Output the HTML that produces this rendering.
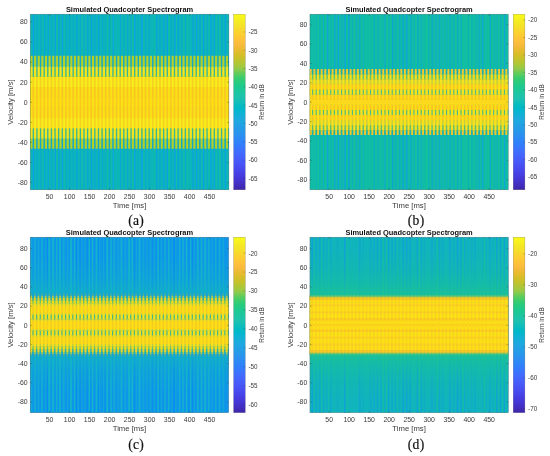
<!DOCTYPE html>
<html lang="en"><head><meta charset="utf-8"><title>Simulated Quadcopter Spectrogram</title>
<style>
html,body{margin:0;padding:0;background:#fff}
svg{display:block}
text{font-family:"Liberation Sans",sans-serif;fill:#3a3a3a}
.tk{font-size:6.9px}
.ct{font-size:6.3px}
.al{font-size:7.7px}
.cl{font-size:6.4px}
.ti{font-size:7.45px;font-weight:bold;fill:#111}
.sb{font-family:"Liberation Serif",serif;font-size:13.6px;fill:#111;stroke:#111;stroke-width:0.18px;letter-spacing:0.3px}
</style></head><body>
<svg width="550" height="456" viewBox="0 0 550 456">
<defs>
<linearGradient id="cb" x1="0" y1="0" x2="0" y2="1"><stop offset="0.0000" stop-color="#f9fb15"/><stop offset="0.0208" stop-color="#f7f31d"/><stop offset="0.0417" stop-color="#f5eb23"/><stop offset="0.0625" stop-color="#f5e327"/><stop offset="0.0833" stop-color="#f7db2b"/><stop offset="0.1042" stop-color="#fbd22f"/><stop offset="0.1250" stop-color="#feca33"/><stop offset="0.1458" stop-color="#fec239"/><stop offset="0.1667" stop-color="#fbbc3d"/><stop offset="0.1875" stop-color="#f1ba37"/><stop offset="0.2083" stop-color="#e5bb2d"/><stop offset="0.2292" stop-color="#d7be28"/><stop offset="0.2500" stop-color="#c8c129"/><stop offset="0.2708" stop-color="#b8c431"/><stop offset="0.2917" stop-color="#a6c83c"/><stop offset="0.3125" stop-color="#90ca4a"/><stop offset="0.3333" stop-color="#66cc59"/><stop offset="0.3542" stop-color="#45cd67"/><stop offset="0.3750" stop-color="#2fcc76"/><stop offset="0.3958" stop-color="#22cb84"/><stop offset="0.4167" stop-color="#1cc990"/><stop offset="0.4375" stop-color="#1bc79c"/><stop offset="0.4583" stop-color="#1dc4a6"/><stop offset="0.4792" stop-color="#1cc1b0"/><stop offset="0.5000" stop-color="#12beb9"/><stop offset="0.5208" stop-color="#03bbc2"/><stop offset="0.5417" stop-color="#02b7cb"/><stop offset="0.5625" stop-color="#0cb3d3"/><stop offset="0.5833" stop-color="#17aeda"/><stop offset="0.6042" stop-color="#1da9e0"/><stop offset="0.6250" stop-color="#21a3e3"/><stop offset="0.6458" stop-color="#259de7"/><stop offset="0.6667" stop-color="#2797eb"/><stop offset="0.6875" stop-color="#2c90f0"/><stop offset="0.7083" stop-color="#2d89f5"/><stop offset="0.7292" stop-color="#2f82fa"/><stop offset="0.7500" stop-color="#347afd"/><stop offset="0.7708" stop-color="#3c72ff"/><stop offset="0.7917" stop-color="#426afe"/><stop offset="0.8125" stop-color="#4562fc"/><stop offset="0.8333" stop-color="#475bf9"/><stop offset="0.8542" stop-color="#4853f5"/><stop offset="0.8750" stop-color="#484cef"/><stop offset="0.8958" stop-color="#4744e9"/><stop offset="0.9167" stop-color="#463de0"/><stop offset="0.9375" stop-color="#4536d5"/><stop offset="0.9583" stop-color="#4331c7"/><stop offset="0.9792" stop-color="#402bb8"/><stop offset="1.0000" stop-color="#3e26a8"/></linearGradient>
<linearGradient id="p2gr" x1="0" y1="0" x2="0" y2="1"><stop offset="0" stop-color="#12b2c2" stop-opacity="0"/><stop offset="0.12" stop-color="#12b2c2" stop-opacity="0.05"/><stop offset="0.24" stop-color="#12b2c2" stop-opacity="0.35"/><stop offset="0.32" stop-color="#12b2c2" stop-opacity="0.75"/><stop offset="0.68" stop-color="#12b2c2" stop-opacity="0.75"/><stop offset="0.76" stop-color="#12b2c2" stop-opacity="0.35"/><stop offset="0.88" stop-color="#12b2c2" stop-opacity="0.05"/><stop offset="1" stop-color="#12b2c2" stop-opacity="0"/></linearGradient>
<linearGradient id="p3gr" x1="0" y1="0" x2="0" y2="1"><stop offset="0" stop-color="#18c09a" stop-opacity="0"/><stop offset="0.08" stop-color="#18c09a" stop-opacity="0.04"/><stop offset="0.18" stop-color="#18c09a" stop-opacity="0.25"/><stop offset="0.27" stop-color="#18c09a" stop-opacity="0.62"/><stop offset="0.34" stop-color="#1cc294" stop-opacity="0.92"/><stop offset="0.67" stop-color="#1cc294" stop-opacity="0.92"/><stop offset="0.73" stop-color="#18c09a" stop-opacity="0.62"/><stop offset="0.82" stop-color="#18c09a" stop-opacity="0.25"/><stop offset="0.92" stop-color="#18c09a" stop-opacity="0.04"/><stop offset="1" stop-color="#18c09a" stop-opacity="0"/></linearGradient></defs>
<rect width="550" height="456" fill="#fff"/>
<g><rect x="30.2" y="14.2" width="198.7" height="175.6" fill="#0cb6b8"/><path d="M66.28 14.2v175.6M73.12 14.2v175.6M105.9 14.2v175.6M138.28 14.2v175.6M171.06 14.2v175.6M218.12 14.2v175.6" stroke="#0c9ee8" stroke-opacity="0.5" stroke-width="1.06" fill="none"/><path d="M40.74 14.2v175.6M102.48 14.2v175.6M145.72 14.2v175.6M149.34 14.2v175.6M182.12 14.2v175.6M221.74 14.2v175.6" stroke="#0c9ee8" stroke-opacity="0.5" stroke-width="1.25" fill="none"/><path d="M37.12 14.2v175.6M51.4 14.2v175.6M80.56 14.2v175.6M123.8 14.2v175.6M131.24 14.2v175.6M160 14.2v175.6M185.34 14.2v175.6M207.46 14.2v175.6" stroke="#0c9ee8" stroke-opacity="0.5" stroke-width="1.44" fill="none"/><path d="M83.98 14.2v175.6M95.04 14.2v175.6M109.32 14.2v175.6M120.58 14.2v175.6" stroke="#0c9ee8" stroke-opacity="0.75" stroke-width="1.06" fill="none"/><path d="M44.56 14.2v175.6M69.5 14.2v175.6M87.6 14.2v175.6M113.34 14.2v175.6M127.82 14.2v175.6" stroke="#0c9ee8" stroke-opacity="0.75" stroke-width="1.25" fill="none"/><path d="M76.94 14.2v175.6M98.66 14.2v175.6M156.78 14.2v175.6M163.82 14.2v175.6M192.98 14.2v175.6M210.88 14.2v175.6M214.5 14.2v175.6" stroke="#0c9ee8" stroke-opacity="0.75" stroke-width="1.44" fill="none"/><path d="M48.18 14.2v175.6M55.42 14.2v175.6M58.84 14.2v175.6M62.66 14.2v175.6M91.62 14.2v175.6M167.44 14.2v175.6M196.6 14.2v175.6M200.02 14.2v175.6M225.36 14.2v175.6" stroke="#0c9ee8" stroke-opacity="1" stroke-width="1.06" fill="none"/><path d="M33.5 14.2v175.6M134.86 14.2v175.6M178.1 14.2v175.6" stroke="#0c9ee8" stroke-opacity="1" stroke-width="1.25" fill="none"/><path d="M141.9 14.2v175.6M174.88 14.2v175.6M203.64 14.2v175.6" stroke="#0c9ee8" stroke-opacity="1" stroke-width="1.44" fill="none"/><path d="M42.55 14.2v175.6M49.79 14.2v175.6M64.27 14.2v175.6M85.99 14.2v175.6M111.33 14.2v175.6M122.19 14.2v175.6M125.81 14.2v175.6M129.43 14.2v175.6M143.91 14.2v175.6M154.77 14.2v175.6M187.35 14.2v175.6M201.83 14.2v175.6M205.45 14.2v175.6M209.07 14.2v175.6" stroke="#14c09c" stroke-opacity="0.4" stroke-width="1.6" fill="none"/><path d="M57.03 14.2v175.6M82.37 14.2v175.6M107.71 14.2v175.6M133.05 14.2v175.6M169.25 14.2v175.6M176.49 14.2v175.6M183.73 14.2v175.6M216.31 14.2v175.6M219.93 14.2v175.6" stroke="#14c09c" stroke-opacity="0.7" stroke-width="1.6" fill="none"/><rect x="30.2" y="138.14" width="198.7" height="10.64" fill="#15a8c8"/><path d="M30.2 143.46H228.9" stroke="#b4d224" stroke-width="10.64" stroke-dasharray="2.1 1.52" stroke-dashoffset="3.37" fill="none"/><rect x="30.2" y="127.8" width="198.7" height="10.94" fill="#3ab792"/><path d="M30.2 133.27H228.9" stroke="#f8e41a" stroke-width="10.94" stroke-dasharray="2.25 1.37" stroke-dashoffset="3.44" fill="none"/><rect x="30.2" y="117.46" width="198.7" height="10.94" fill="#f4d220"/><path d="M30.2 122.93H228.9" stroke="#f9ee1c" stroke-width="10.94" stroke-dasharray="1.9 1.72" stroke-dashoffset="3.27" fill="none"/><rect x="30.2" y="107.12" width="198.7" height="10.94" fill="#f8c622"/><path d="M30.2 112.59H228.9" stroke="#fae214" stroke-width="10.94" stroke-dasharray="1.9 1.72" stroke-dashoffset="3.27" fill="none"/><rect x="30.2" y="96.78" width="198.7" height="10.94" fill="#f9ca20"/><path d="M30.2 102.25H228.9" stroke="#fae214" stroke-width="10.94" stroke-dasharray="1.9 1.72" stroke-dashoffset="3.27" fill="none"/><rect x="30.2" y="86.44" width="198.7" height="10.94" fill="#f8c622"/><path d="M30.2 91.91H228.9" stroke="#fae214" stroke-width="10.94" stroke-dasharray="1.9 1.72" stroke-dashoffset="3.27" fill="none"/><rect x="30.2" y="76.1" width="198.7" height="10.94" fill="#f4d220"/><path d="M30.2 81.57H228.9" stroke="#f9ee1c" stroke-width="10.94" stroke-dasharray="1.9 1.72" stroke-dashoffset="3.27" fill="none"/><rect x="30.2" y="65.76" width="198.7" height="10.94" fill="#3ab792"/><path d="M30.2 71.23H228.9" stroke="#f8e41a" stroke-width="10.94" stroke-dasharray="2.25 1.37" stroke-dashoffset="3.44" fill="none"/><rect x="30.2" y="55.72" width="198.7" height="10.64" fill="#15a8c8"/><path d="M30.2 61.04H228.9" stroke="#b4d224" stroke-width="10.64" stroke-dasharray="2.1 1.52" stroke-dashoffset="3.37" fill="none"/></g>
<rect x="30.2" y="14.2" width="198.7" height="175.6" fill="none" stroke="#4a4a4a" stroke-width="0.5" stroke-opacity="0.55"/>
<path d="M49.6 189.8v-1.8M49.6 14.2v1.8M69.6 189.8v-1.8M69.6 14.2v1.8M89.6 189.8v-1.8M89.6 14.2v1.8M109.6 189.8v-1.8M109.6 14.2v1.8M129.6 189.8v-1.8M129.6 14.2v1.8M149.6 189.8v-1.8M149.6 14.2v1.8M169.6 189.8v-1.8M169.6 14.2v1.8M189.6 189.8v-1.8M189.6 14.2v1.8M209.6 189.8v-1.8M209.6 14.2v1.8M30.2 182.62h1.8M228.9 182.62h-1.8M30.2 162.54h1.8M228.9 162.54h-1.8M30.2 142.46h1.8M228.9 142.46h-1.8M30.2 122.38h1.8M228.9 122.38h-1.8M30.2 102.3h1.8M228.9 102.3h-1.8M30.2 82.22h1.8M228.9 82.22h-1.8M30.2 62.14h1.8M228.9 62.14h-1.8M30.2 42.06h1.8M228.9 42.06h-1.8M30.2 21.98h1.8M228.9 21.98h-1.8" stroke="#333" stroke-width="0.5" stroke-opacity="0.6" fill="none"/>
<text x="49.6" y="199.3" class="tk" text-anchor="middle">50</text>
<text x="69.6" y="199.3" class="tk" text-anchor="middle">100</text>
<text x="89.6" y="199.3" class="tk" text-anchor="middle">150</text>
<text x="109.6" y="199.3" class="tk" text-anchor="middle">200</text>
<text x="129.6" y="199.3" class="tk" text-anchor="middle">250</text>
<text x="149.6" y="199.3" class="tk" text-anchor="middle">300</text>
<text x="169.6" y="199.3" class="tk" text-anchor="middle">350</text>
<text x="189.6" y="199.3" class="tk" text-anchor="middle">400</text>
<text x="209.6" y="199.3" class="tk" text-anchor="middle">450</text>
<text x="27.6" y="184.97" class="tk" text-anchor="end">-80</text>
<text x="27.6" y="164.89" class="tk" text-anchor="end">-60</text>
<text x="27.6" y="144.81" class="tk" text-anchor="end">-40</text>
<text x="27.6" y="124.73" class="tk" text-anchor="end">-20</text>
<text x="27.6" y="104.65" class="tk" text-anchor="end">0</text>
<text x="27.6" y="84.57" class="tk" text-anchor="end">20</text>
<text x="27.6" y="64.49" class="tk" text-anchor="end">40</text>
<text x="27.6" y="44.41" class="tk" text-anchor="end">60</text>
<text x="27.6" y="24.33" class="tk" text-anchor="end">80</text>
<text x="129.55" y="208.4" class="al" text-anchor="middle">Time [ms]</text>
<text transform="translate(12.9 102) rotate(-90)" class="al" text-anchor="middle">Velocity [m/s]</text>
<text x="129.55" y="11.9" class="ti" text-anchor="middle">Simulated Quadcopter Spectrogram</text>
<rect x="233.6" y="14.2" width="11.7" height="175.6" fill="url(#cb)" stroke="#4a4a4a" stroke-width="0.4" stroke-opacity="0.5"/>
<text x="248.5" y="34.3" class="ct">-25</text>
<text x="248.5" y="52.6" class="ct">-30</text>
<text x="248.5" y="70.9" class="ct">-35</text>
<text x="248.5" y="89.2" class="ct">-40</text>
<text x="248.5" y="107.5" class="ct">-45</text>
<text x="248.5" y="125.8" class="ct">-50</text>
<text x="248.5" y="144.1" class="ct">-55</text>
<text x="248.5" y="162.4" class="ct">-60</text>
<text x="248.5" y="180.7" class="ct">-65</text>
<path d="M245.3 32h-1.6M245.3 50.3h-1.6M245.3 68.6h-1.6M245.3 86.9h-1.6M245.3 105.2h-1.6M245.3 123.5h-1.6M245.3 141.8h-1.6M245.3 160.1h-1.6M245.3 178.4h-1.6" stroke="#333" stroke-width="0.5" stroke-opacity="0.6" fill="none"/>
<text transform="translate(264.3 102) rotate(-90)" class="cl" text-anchor="middle">Return in dB</text>
<text x="136.2" y="225" class="sb" text-anchor="middle">(a)</text>
<g><rect x="309.9" y="14.2" width="198.4" height="175.6" fill="#10bca6"/><path d="M316.62 14.2v175.6M331.1 14.2v175.6M414.36 14.2v175.6M442.92 14.2v175.6M475.9 14.2v175.6M494 14.2v175.6M497.42 14.2v175.6" stroke="#10a2de" stroke-opacity="0.35" stroke-width="1.1" fill="none"/><path d="M388.82 14.2v175.6M468.26 14.2v175.6M471.88 14.2v175.6" stroke="#10a2de" stroke-opacity="0.35" stroke-width="1.3" fill="none"/><path d="M319.84 14.2v175.6M363.48 14.2v175.6M377.76 14.2v175.6M421.4 14.2v175.6M428.64 14.2v175.6M446.74 14.2v175.6" stroke="#10a2de" stroke-opacity="0.35" stroke-width="1.49" fill="none"/><path d="M323.46 14.2v175.6M341.96 14.2v175.6M352.82 14.2v175.6M356.24 14.2v175.6M396.06 14.2v175.6M453.98 14.2v175.6M461.42 14.2v175.6" stroke="#10a2de" stroke-opacity="0.6" stroke-width="1.1" fill="none"/><path d="M374.14 14.2v175.6M385 14.2v175.6M436.08 14.2v175.6M450.36 14.2v175.6M479.12 14.2v175.6M501.24 14.2v175.6" stroke="#10a2de" stroke-opacity="0.6" stroke-width="1.3" fill="none"/><path d="M359.66 14.2v175.6M399.68 14.2v175.6M410.74 14.2v175.6M432.26 14.2v175.6M457.6 14.2v175.6" stroke="#10a2de" stroke-opacity="0.6" stroke-width="1.49" fill="none"/><path d="M392.64 14.2v175.6M417.78 14.2v175.6M439.7 14.2v175.6M482.74 14.2v175.6M490.38 14.2v175.6" stroke="#10a2de" stroke-opacity="0.9" stroke-width="1.1" fill="none"/><path d="M334.72 14.2v175.6M338.34 14.2v175.6M403.1 14.2v175.6" stroke="#10a2de" stroke-opacity="0.9" stroke-width="1.3" fill="none"/><path d="M327.48 14.2v175.6M345.18 14.2v175.6M348.8 14.2v175.6M406.72 14.2v175.6M504.46 14.2v175.6" stroke="#10a2de" stroke-opacity="0.9" stroke-width="1.49" fill="none"/><path d="M321.85 14.2v175.6M332.71 14.2v175.6M347.19 14.2v175.6M361.67 14.2v175.6M365.29 14.2v175.6M372.53 14.2v175.6M376.15 14.2v175.6M390.63 14.2v175.6M397.87 14.2v175.6M430.45 14.2v175.6M473.89 14.2v175.6M488.37 14.2v175.6M499.23 14.2v175.6" stroke="#14c494" stroke-opacity="0.4" stroke-width="1.6" fill="none"/><path d="M318.23 14.2v175.6M325.47 14.2v175.6M354.43 14.2v175.6M387.01 14.2v175.6M415.97 14.2v175.6M426.83 14.2v175.6M455.79 14.2v175.6M463.03 14.2v175.6M466.65 14.2v175.6M470.27 14.2v175.6M491.99 14.2v175.6M502.85 14.2v175.6" stroke="#14c494" stroke-opacity="0.7" stroke-width="1.6" fill="none"/><rect x="309.9" y="129.69" width="198.4" height="5.39" fill="#19b0ae"/><path d="M309.85 132.39H508.3" stroke="#f4c92a" stroke-width="5.39" stroke-dasharray="1.9 1.72" stroke-dashoffset="0" fill="none"/><rect x="309.9" y="124.61" width="198.4" height="5.69" fill="#62bf6e"/><path d="M309.7 127.45H508.3" stroke="#f7de1e" stroke-width="5.69" stroke-dasharray="2.2 1.42" stroke-dashoffset="0" fill="none"/><rect x="309.9" y="119.52" width="198.4" height="5.69" fill="#c9cf3c"/><path d="M309.8 122.36H508.3" stroke="#f9e41a" stroke-width="5.69" stroke-dasharray="2 1.62" stroke-dashoffset="0" fill="none"/><rect x="309.9" y="114.42" width="198.4" height="5.69" fill="#f7c724"/><path d="M309.85 117.27H508.3" stroke="#fbe014" stroke-width="5.69" stroke-dasharray="1.9 1.72" stroke-dashoffset="0" fill="none"/><rect x="309.9" y="109.34" width="198.4" height="5.69" fill="#54b980"/><path d="M309.57 112.18H508.3" stroke="#f9e21a" stroke-width="5.69" stroke-dasharray="2.45 1.17" stroke-dashoffset="0" fill="none"/><rect x="309.9" y="104.25" width="198.4" height="5.69" fill="#f8c326"/><path d="M309.85 107.09H508.3" stroke="#fbe014" stroke-width="5.69" stroke-dasharray="1.9 1.72" stroke-dashoffset="0" fill="none"/><rect x="309.9" y="99.16" width="198.4" height="5.69" fill="#fbd91c"/><rect x="309.9" y="94.06" width="198.4" height="5.69" fill="#f8c326"/><path d="M309.85 96.91H508.3" stroke="#fbe014" stroke-width="5.69" stroke-dasharray="1.9 1.72" stroke-dashoffset="0" fill="none"/><rect x="309.9" y="88.98" width="198.4" height="5.69" fill="#54b980"/><path d="M309.57 91.82H508.3" stroke="#f9e21a" stroke-width="5.69" stroke-dasharray="2.45 1.17" stroke-dashoffset="0" fill="none"/><rect x="309.9" y="83.89" width="198.4" height="5.69" fill="#f7c724"/><path d="M309.85 86.73H508.3" stroke="#fbe014" stroke-width="5.69" stroke-dasharray="1.9 1.72" stroke-dashoffset="0" fill="none"/><rect x="309.9" y="78.8" width="198.4" height="5.69" fill="#c9cf3c"/><path d="M309.8 81.64H508.3" stroke="#f9e41a" stroke-width="5.69" stroke-dasharray="2 1.62" stroke-dashoffset="0" fill="none"/><rect x="309.9" y="73.7" width="198.4" height="5.69" fill="#62bf6e"/><path d="M309.7 76.55H508.3" stroke="#f7de1e" stroke-width="5.69" stroke-dasharray="2.2 1.42" stroke-dashoffset="0" fill="none"/><rect x="309.9" y="68.91" width="198.4" height="5.39" fill="#19b0ae"/><path d="M309.85 71.61H508.3" stroke="#f4c92a" stroke-width="5.39" stroke-dasharray="1.9 1.72" stroke-dashoffset="0" fill="none"/></g>
<rect x="309.9" y="14.2" width="198.4" height="175.6" fill="none" stroke="#4a4a4a" stroke-width="0.5" stroke-opacity="0.55"/>
<path d="M329.2 189.8v-1.8M329.2 14.2v1.8M349.2 189.8v-1.8M349.2 14.2v1.8M369.2 189.8v-1.8M369.2 14.2v1.8M389.2 189.8v-1.8M389.2 14.2v1.8M409.2 189.8v-1.8M409.2 14.2v1.8M429.2 189.8v-1.8M429.2 14.2v1.8M449.2 189.8v-1.8M449.2 14.2v1.8M469.2 189.8v-1.8M469.2 14.2v1.8M489.2 189.8v-1.8M489.2 14.2v1.8M309.9 179.72h1.8M508.3 179.72h-1.8M309.9 160.34h1.8M508.3 160.34h-1.8M309.9 140.96h1.8M508.3 140.96h-1.8M309.9 121.58h1.8M508.3 121.58h-1.8M309.9 102.2h1.8M508.3 102.2h-1.8M309.9 82.82h1.8M508.3 82.82h-1.8M309.9 63.44h1.8M508.3 63.44h-1.8M309.9 44.06h1.8M508.3 44.06h-1.8M309.9 24.68h1.8M508.3 24.68h-1.8" stroke="#333" stroke-width="0.5" stroke-opacity="0.6" fill="none"/>
<text x="329.2" y="199.3" class="tk" text-anchor="middle">50</text>
<text x="349.2" y="199.3" class="tk" text-anchor="middle">100</text>
<text x="369.2" y="199.3" class="tk" text-anchor="middle">150</text>
<text x="389.2" y="199.3" class="tk" text-anchor="middle">200</text>
<text x="409.2" y="199.3" class="tk" text-anchor="middle">250</text>
<text x="429.2" y="199.3" class="tk" text-anchor="middle">300</text>
<text x="449.2" y="199.3" class="tk" text-anchor="middle">350</text>
<text x="469.2" y="199.3" class="tk" text-anchor="middle">400</text>
<text x="489.2" y="199.3" class="tk" text-anchor="middle">450</text>
<text x="307.3" y="182.07" class="tk" text-anchor="end">-80</text>
<text x="307.3" y="162.69" class="tk" text-anchor="end">-60</text>
<text x="307.3" y="143.31" class="tk" text-anchor="end">-40</text>
<text x="307.3" y="123.93" class="tk" text-anchor="end">-20</text>
<text x="307.3" y="104.55" class="tk" text-anchor="end">0</text>
<text x="307.3" y="85.17" class="tk" text-anchor="end">20</text>
<text x="307.3" y="65.79" class="tk" text-anchor="end">40</text>
<text x="307.3" y="46.41" class="tk" text-anchor="end">60</text>
<text x="307.3" y="27.03" class="tk" text-anchor="end">80</text>
<text x="409.1" y="208.4" class="al" text-anchor="middle">Time [ms]</text>
<text transform="translate(292.6 102) rotate(-90)" class="al" text-anchor="middle">Velocity [m/s]</text>
<text x="409.1" y="11.9" class="ti" text-anchor="middle">Simulated Quadcopter Spectrogram</text>
<rect x="513.2" y="14.2" width="11.7" height="175.6" fill="url(#cb)" stroke="#4a4a4a" stroke-width="0.4" stroke-opacity="0.5"/>
<text x="528.1" y="22.3" class="ct">-20</text>
<text x="528.1" y="39.75" class="ct">-25</text>
<text x="528.1" y="57.2" class="ct">-30</text>
<text x="528.1" y="74.65" class="ct">-35</text>
<text x="528.1" y="92.1" class="ct">-40</text>
<text x="528.1" y="109.55" class="ct">-45</text>
<text x="528.1" y="127" class="ct">-50</text>
<text x="528.1" y="144.45" class="ct">-55</text>
<text x="528.1" y="161.9" class="ct">-60</text>
<text x="528.1" y="179.35" class="ct">-65</text>
<path d="M524.9 20h-1.6M524.9 37.45h-1.6M524.9 54.9h-1.6M524.9 72.35h-1.6M524.9 89.8h-1.6M524.9 107.25h-1.6M524.9 124.7h-1.6M524.9 142.15h-1.6M524.9 159.6h-1.6M524.9 177.05h-1.6" stroke="#333" stroke-width="0.5" stroke-opacity="0.6" fill="none"/>
<text transform="translate(543.9 102) rotate(-90)" class="cl" text-anchor="middle">Return in dB</text>
<text x="416.1" y="225" class="sb" text-anchor="middle">(b)</text>
<g><rect x="30.2" y="237.2" width="198.5" height="175.5" fill="#0e94ec"/><path d="M61.97 237.2v175.5M80.07 237.2v175.5M87.31 237.2v175.5M90.93 237.2v175.5M94.55 237.2v175.5M105.41 237.2v175.5M152.47 237.2v175.5M156.09 237.2v175.5M159.71 237.2v175.5M188.67 237.2v175.5M217.63 237.2v175.5" stroke="#0a84f4" stroke-opacity="0.4" stroke-width="1.4" fill="none"/><path d="M47.49 237.2v175.5M76.45 237.2v175.5M98.17 237.2v175.5M134.37 237.2v175.5M174.19 237.2v175.5M192.29 237.2v175.5" stroke="#0a84f4" stroke-opacity="0.7" stroke-width="1.4" fill="none"/><path d="M45.68 237.2v175.5M67.6 237.2v175.5M81.88 237.2v175.5M85.3 237.2v175.5M99.78 237.2v175.5M103.6 237.2v175.5M136.38 237.2v175.5M146.84 237.2v175.5M172.18 237.2v175.5M175.8 237.2v175.5M194.1 237.2v175.5M212.2 237.2v175.5" stroke="#14b4cc" stroke-opacity="0.55" stroke-width="1.44" fill="none"/><path d="M78.26 237.2v175.5M118.28 237.2v175.5M125.32 237.2v175.5M154.48 237.2v175.5M161.32 237.2v175.5M223.26 237.2v175.5" stroke="#14b4cc" stroke-opacity="0.55" stroke-width="1.7" fill="none"/><path d="M31.4 237.2v175.5M38.44 237.2v175.5M143.42 237.2v175.5M150.46 237.2v175.5" stroke="#14b4cc" stroke-opacity="0.55" stroke-width="1.95" fill="none"/><path d="M165.14 237.2v175.5M215.82 237.2v175.5" stroke="#14b4cc" stroke-opacity="0.75" stroke-width="1.7" fill="none"/><path d="M42.06 237.2v175.5M63.58 237.2v175.5M114.26 237.2v175.5M208.78 237.2v175.5M219.44 237.2v175.5" stroke="#14b4cc" stroke-opacity="0.75" stroke-width="1.95" fill="none"/><path d="M35.02 237.2v175.5M56.74 237.2v175.5M74.64 237.2v175.5M89.32 237.2v175.5M111.04 237.2v175.5M168.76 237.2v175.5M179.62 237.2v175.5M183.04 237.2v175.5M190.68 237.2v175.5" stroke="#14b4cc" stroke-opacity="0.95" stroke-width="1.44" fill="none"/><path d="M92.54 237.2v175.5M121.5 237.2v175.5M158.1 237.2v175.5M186.66 237.2v175.5M197.72 237.2v175.5M201.54 237.2v175.5" stroke="#14b4cc" stroke-opacity="0.95" stroke-width="1.7" fill="none"/><path d="M49.3 237.2v175.5M53.12 237.2v175.5M60.16 237.2v175.5M71.02 237.2v175.5M96.56 237.2v175.5M107.22 237.2v175.5M129.14 237.2v175.5M132.36 237.2v175.5M139.6 237.2v175.5M205.16 237.2v175.5" stroke="#14b4cc" stroke-opacity="0.95" stroke-width="1.95" fill="none"/><rect x="30.2" y="237.2" width="198.5" height="175.5" fill="url(#p2gr)"/><rect x="30.2" y="320.3" width="198.5" height="9.4" fill="#f9cc20"/><path d="M30.2 325H228.7" stroke="#fbe016" stroke-width="9.4" stroke-dasharray="1.9 1.72" stroke-dashoffset="3.57" fill="none"/><rect x="30.2" y="318.7" width="198.5" height="2.2" fill="#c6cc40"/><path d="M30 319.8H228.7" stroke="#f9e01a" stroke-width="2.2" stroke-dasharray="2.4 1.22" stroke-dashoffset="0" fill="none"/><rect x="30.2" y="329.1" width="198.5" height="2.2" fill="#c6cc40"/><path d="M30 330.2H228.7" stroke="#f9e01a" stroke-width="2.2" stroke-dasharray="2.4 1.22" stroke-dashoffset="0" fill="none"/><rect x="30.2" y="314.1" width="198.5" height="5.2" fill="#44b68a"/><path d="M30 316.7H228.7" stroke="#f9e01a" stroke-width="5.2" stroke-dasharray="2.4 1.22" stroke-dashoffset="0" fill="none"/><rect x="30.2" y="330.7" width="198.5" height="5.2" fill="#44b68a"/><path d="M30 333.3H228.7" stroke="#f9e01a" stroke-width="5.2" stroke-dasharray="2.4 1.22" stroke-dashoffset="0" fill="none"/><rect x="30.2" y="312.5" width="198.5" height="2.2" fill="#c6cc40"/><path d="M30 313.6H228.7" stroke="#f9e01a" stroke-width="2.2" stroke-dasharray="2.4 1.22" stroke-dashoffset="0" fill="none"/><rect x="30.2" y="335.3" width="198.5" height="2.2" fill="#c6cc40"/><path d="M30 336.4H228.7" stroke="#f9e01a" stroke-width="2.2" stroke-dasharray="2.4 1.22" stroke-dashoffset="0" fill="none"/><rect x="30.2" y="305.3" width="198.5" height="7.8" fill="#f2cc24"/><path d="M30.2 309.2H228.7" stroke="#fbe016" stroke-width="7.8" stroke-dasharray="2 1.62" stroke-dashoffset="0" fill="none"/><rect x="30.2" y="336.9" width="198.5" height="7.8" fill="#f2cc24"/><path d="M30.2 340.8H228.7" stroke="#fbe016" stroke-width="7.8" stroke-dasharray="2 1.62" stroke-dashoffset="0" fill="none"/><rect x="30.2" y="302.7" width="198.5" height="3.2" fill="#b4cb46"/><path d="M30 304.3H228.7" stroke="#f9e01a" stroke-width="3.2" stroke-dasharray="2.4 1.22" stroke-dashoffset="0" fill="none"/><rect x="30.2" y="344.1" width="198.5" height="3.2" fill="#b4cb46"/><path d="M30 345.7H228.7" stroke="#f9e01a" stroke-width="3.2" stroke-dasharray="2.4 1.22" stroke-dashoffset="0" fill="none"/><rect x="30.2" y="299.7" width="198.5" height="3.6" fill="#66bf6a"/><path d="M30.05 301.5H228.7" stroke="#f8dc1c" stroke-width="3.6" stroke-dasharray="2.3 1.32" stroke-dashoffset="0" fill="none"/><rect x="30.2" y="346.7" width="198.5" height="3.6" fill="#66bf6a"/><path d="M30.05 348.5H228.7" stroke="#f8dc1c" stroke-width="3.6" stroke-dasharray="2.3 1.32" stroke-dashoffset="0" fill="none"/><rect x="30.2" y="297.1" width="198.5" height="3.2" fill="#2ab4a2"/><path d="M30.2 298.7H228.7" stroke="#f3d024" stroke-width="3.2" stroke-dasharray="2 1.62" stroke-dashoffset="0" fill="none"/><rect x="30.2" y="349.7" width="198.5" height="3.2" fill="#2ab4a2"/><path d="M30.2 351.3H228.7" stroke="#f3d024" stroke-width="3.2" stroke-dasharray="2 1.62" stroke-dashoffset="0" fill="none"/><rect x="30.2" y="295.1" width="198.5" height="2.6" fill="#18aacc"/><path d="M30.2 296.4H228.7" stroke="#bcc842" stroke-width="2.6" stroke-dasharray="1.6 2.02" stroke-dashoffset="3.42" fill="none"/><rect x="30.2" y="352.3" width="198.5" height="2.6" fill="#18aacc"/><path d="M30.2 353.6H228.7" stroke="#bcc842" stroke-width="2.6" stroke-dasharray="1.6 2.02" stroke-dashoffset="3.42" fill="none"/><rect x="30.2" y="293.4" width="198.5" height="2.3" fill="#16a2d6"/><path d="M30.2 294.55H228.7" stroke="#52ba80" stroke-width="2.3" stroke-dasharray="1.2 2.42" stroke-dashoffset="3.22" fill="none"/><rect x="30.2" y="354.3" width="198.5" height="2.3" fill="#16a2d6"/><path d="M30.2 355.45H228.7" stroke="#52ba80" stroke-width="2.3" stroke-dasharray="1.2 2.42" stroke-dashoffset="3.22" fill="none"/></g>
<rect x="30.2" y="237.2" width="198.5" height="175.5" fill="none" stroke="#4a4a4a" stroke-width="0.5" stroke-opacity="0.55"/>
<path d="M49.6 412.7v-1.8M49.6 237.2v1.8M69.6 412.7v-1.8M69.6 237.2v1.8M89.6 412.7v-1.8M89.6 237.2v1.8M109.6 412.7v-1.8M109.6 237.2v1.8M129.6 412.7v-1.8M129.6 237.2v1.8M149.6 412.7v-1.8M149.6 237.2v1.8M169.6 412.7v-1.8M169.6 237.2v1.8M189.6 412.7v-1.8M189.6 237.2v1.8M209.6 412.7v-1.8M209.6 237.2v1.8M30.2 401.94h1.8M228.7 401.94h-1.8M30.2 382.78h1.8M228.7 382.78h-1.8M30.2 363.62h1.8M228.7 363.62h-1.8M30.2 344.46h1.8M228.7 344.46h-1.8M30.2 325.3h1.8M228.7 325.3h-1.8M30.2 306.14h1.8M228.7 306.14h-1.8M30.2 286.98h1.8M228.7 286.98h-1.8M30.2 267.82h1.8M228.7 267.82h-1.8M30.2 248.66h1.8M228.7 248.66h-1.8" stroke="#333" stroke-width="0.5" stroke-opacity="0.6" fill="none"/>
<text x="49.6" y="422.2" class="tk" text-anchor="middle">50</text>
<text x="69.6" y="422.2" class="tk" text-anchor="middle">100</text>
<text x="89.6" y="422.2" class="tk" text-anchor="middle">150</text>
<text x="109.6" y="422.2" class="tk" text-anchor="middle">200</text>
<text x="129.6" y="422.2" class="tk" text-anchor="middle">250</text>
<text x="149.6" y="422.2" class="tk" text-anchor="middle">300</text>
<text x="169.6" y="422.2" class="tk" text-anchor="middle">350</text>
<text x="189.6" y="422.2" class="tk" text-anchor="middle">400</text>
<text x="209.6" y="422.2" class="tk" text-anchor="middle">450</text>
<text x="27.6" y="404.29" class="tk" text-anchor="end">-80</text>
<text x="27.6" y="385.13" class="tk" text-anchor="end">-60</text>
<text x="27.6" y="365.97" class="tk" text-anchor="end">-40</text>
<text x="27.6" y="346.81" class="tk" text-anchor="end">-20</text>
<text x="27.6" y="327.65" class="tk" text-anchor="end">0</text>
<text x="27.6" y="308.49" class="tk" text-anchor="end">20</text>
<text x="27.6" y="289.33" class="tk" text-anchor="end">40</text>
<text x="27.6" y="270.17" class="tk" text-anchor="end">60</text>
<text x="27.6" y="251.01" class="tk" text-anchor="end">80</text>
<text x="129.45" y="431.3" class="al" text-anchor="middle">Time [ms]</text>
<text transform="translate(12.9 324.95) rotate(-90)" class="al" text-anchor="middle">Velocity [m/s]</text>
<text x="129.45" y="234.9" class="ti" text-anchor="middle">Simulated Quadcopter Spectrogram</text>
<rect x="233.6" y="237.2" width="11.7" height="175.5" fill="url(#cb)" stroke="#4a4a4a" stroke-width="0.4" stroke-opacity="0.5"/>
<text x="248.5" y="255.5" class="ct">-20</text>
<text x="248.5" y="274.4" class="ct">-25</text>
<text x="248.5" y="293.3" class="ct">-30</text>
<text x="248.5" y="312.2" class="ct">-35</text>
<text x="248.5" y="331.1" class="ct">-40</text>
<text x="248.5" y="350" class="ct">-45</text>
<text x="248.5" y="368.9" class="ct">-50</text>
<text x="248.5" y="387.8" class="ct">-55</text>
<text x="248.5" y="406.7" class="ct">-60</text>
<path d="M245.3 253.2h-1.6M245.3 272.1h-1.6M245.3 291h-1.6M245.3 309.9h-1.6M245.3 328.8h-1.6M245.3 347.7h-1.6M245.3 366.6h-1.6M245.3 385.5h-1.6M245.3 404.4h-1.6" stroke="#333" stroke-width="0.5" stroke-opacity="0.6" fill="none"/>
<text transform="translate(264.3 324.95) rotate(-90)" class="cl" text-anchor="middle">Return in dB</text>
<text x="136.2" y="449" class="sb" text-anchor="middle">(c)</text>
<g><rect x="309.9" y="237.2" width="198.4" height="175.5" fill="#10b4bc"/><path d="M424.52 237.2v175.5M468.16 237.2v175.5M486.06 237.2v175.5M507.98 237.2v175.5" stroke="#109ce0" stroke-opacity="0.3" stroke-width="1.1" fill="none"/><path d="M337.64 237.2v175.5M435.38 237.2v175.5M482.84 237.2v175.5M493.5 237.2v175.5" stroke="#109ce0" stroke-opacity="0.3" stroke-width="1.3" fill="none"/><path d="M326.98 237.2v175.5M363.18 237.2v175.5M384.7 237.2v175.5M399.38 237.2v175.5M453.88 237.2v175.5M471.58 237.2v175.5" stroke="#109ce0" stroke-opacity="0.3" stroke-width="1.49" fill="none"/><path d="M395.56 237.2v175.5M464.54 237.2v175.5" stroke="#109ce0" stroke-opacity="0.55" stroke-width="1.1" fill="none"/><path d="M316.32 237.2v175.5M323.56 237.2v175.5M330.6 237.2v175.5M392.14 237.2v175.5M442.62 237.2v175.5M475.2 237.2v175.5" stroke="#109ce0" stroke-opacity="0.55" stroke-width="1.3" fill="none"/><path d="M370.62 237.2v175.5M374.04 237.2v175.5M377.46 237.2v175.5M381.28 237.2v175.5M421.3 237.2v175.5M431.96 237.2v175.5M439.4 237.2v175.5M489.88 237.2v175.5" stroke="#109ce0" stroke-opacity="0.55" stroke-width="1.49" fill="none"/><path d="M359.76 237.2v175.5" stroke="#109ce0" stroke-opacity="0.85" stroke-width="1.1" fill="none"/><path d="M388.32 237.2v175.5M403.2 237.2v175.5M406.62 237.2v175.5M410.04 237.2v175.5M417.48 237.2v175.5M449.86 237.2v175.5M461.12 237.2v175.5M496.92 237.2v175.5M500.54 237.2v175.5" stroke="#109ce0" stroke-opacity="0.85" stroke-width="1.3" fill="none"/><path d="M312.3 237.2v175.5M319.94 237.2v175.5M344.88 237.2v175.5M457.5 237.2v175.5M504.36 237.2v175.5" stroke="#109ce0" stroke-opacity="0.85" stroke-width="1.49" fill="none"/><path d="M314.31 237.2v175.5M328.79 237.2v175.5M397.57 237.2v175.5M495.31 237.2v175.5M498.93 237.2v175.5M506.17 237.2v175.5" stroke="#14c0a0" stroke-opacity="0.4" stroke-width="1.6" fill="none"/><path d="M321.55 237.2v175.5M346.89 237.2v175.5M383.09 237.2v175.5M386.71 237.2v175.5M419.29 237.2v175.5M437.39 237.2v175.5M462.73 237.2v175.5M484.45 237.2v175.5M502.55 237.2v175.5" stroke="#14c0a0" stroke-opacity="0.7" stroke-width="1.6" fill="none"/><rect x="309.9" y="237.2" width="198.4" height="175.5" fill="url(#p3gr)"/><rect x="309.9" y="323.5" width="198.4" height="3" fill="#fbd61c"/><path d="M309.6 325H508.3" stroke="#f9cb22" stroke-width="3" stroke-dasharray="1.8 1.82" stroke-dashoffset="0" fill="none"/><rect x="309.9" y="319.7" width="198.4" height="4.4" fill="#fbd81c"/><path d="M309.6 321.9H508.3" stroke="#fbe016" stroke-width="4.4" stroke-dasharray="1.8 1.82" stroke-dashoffset="0" fill="none"/><rect x="309.9" y="325.9" width="198.4" height="4.4" fill="#fbd81c"/><path d="M309.6 328.1H508.3" stroke="#fbe016" stroke-width="4.4" stroke-dasharray="1.8 1.82" stroke-dashoffset="0" fill="none"/><rect x="309.9" y="317.5" width="198.4" height="2.8" fill="#f6c028"/><path d="M309.6 318.9H508.3" stroke="#fbd41e" stroke-width="2.8" stroke-dasharray="1.8 1.82" stroke-dashoffset="0" fill="none"/><rect x="309.9" y="329.7" width="198.4" height="2.8" fill="#f6c028"/><path d="M309.6 331.1H508.3" stroke="#fbd41e" stroke-width="2.8" stroke-dasharray="1.8 1.82" stroke-dashoffset="0" fill="none"/><rect x="309.9" y="312.7" width="198.4" height="5.4" fill="#f9d41e"/><path d="M309.6 315.4H508.3" stroke="#fbe414" stroke-width="5.4" stroke-dasharray="1.8 1.82" stroke-dashoffset="0" fill="none"/><rect x="309.9" y="331.9" width="198.4" height="5.4" fill="#f9d41e"/><path d="M309.6 334.6H508.3" stroke="#fbe414" stroke-width="5.4" stroke-dasharray="1.8 1.82" stroke-dashoffset="0" fill="none"/><rect x="309.9" y="310.7" width="198.4" height="2.6" fill="#f8c626"/><path d="M309.6 312H508.3" stroke="#fbd820" stroke-width="2.6" stroke-dasharray="1.8 1.82" stroke-dashoffset="0" fill="none"/><rect x="309.9" y="336.7" width="198.4" height="2.6" fill="#f8c626"/><path d="M309.6 338H508.3" stroke="#fbd820" stroke-width="2.6" stroke-dasharray="1.8 1.82" stroke-dashoffset="0" fill="none"/><rect x="309.9" y="305.7" width="198.4" height="5.6" fill="#fad61c"/><path d="M309.6 308.5H508.3" stroke="#fbe216" stroke-width="5.6" stroke-dasharray="1.8 1.82" stroke-dashoffset="0" fill="none"/><rect x="309.9" y="338.7" width="198.4" height="5.6" fill="#fad61c"/><path d="M309.6 341.5H508.3" stroke="#fbe216" stroke-width="5.6" stroke-dasharray="1.8 1.82" stroke-dashoffset="0" fill="none"/><rect x="309.9" y="303.7" width="198.4" height="2.6" fill="#f8c826"/><path d="M309.6 305H508.3" stroke="#fbd820" stroke-width="2.6" stroke-dasharray="1.8 1.82" stroke-dashoffset="0" fill="none"/><rect x="309.9" y="343.7" width="198.4" height="2.6" fill="#f8c826"/><path d="M309.6 345H508.3" stroke="#fbd820" stroke-width="2.6" stroke-dasharray="1.8 1.82" stroke-dashoffset="0" fill="none"/><rect x="309.9" y="299.2" width="198.4" height="5.1" fill="#f9d21e"/><path d="M309.6 301.75H508.3" stroke="#fbe018" stroke-width="5.1" stroke-dasharray="1.8 1.82" stroke-dashoffset="0" fill="none"/><rect x="309.9" y="345.7" width="198.4" height="5.1" fill="#f9d21e"/><path d="M309.6 348.25H508.3" stroke="#fbe018" stroke-width="5.1" stroke-dasharray="1.8 1.82" stroke-dashoffset="0" fill="none"/><rect x="309.9" y="297.1" width="198.4" height="2.7" fill="#f3be2c"/><path d="M309.6 298.45H508.3" stroke="#f9cc22" stroke-width="2.7" stroke-dasharray="1.8 1.82" stroke-dashoffset="0" fill="none"/><rect x="309.9" y="350.2" width="198.4" height="2.7" fill="#f3be2c"/><path d="M309.6 351.55H508.3" stroke="#f9cc22" stroke-width="2.7" stroke-dasharray="1.8 1.82" stroke-dashoffset="0" fill="none"/><rect x="309.9" y="295.9" width="198.4" height="1.8" fill="#b4c846"/><path d="M309.6 296.8H508.3" stroke="#ecc42e" stroke-width="1.8" stroke-dasharray="1.8 1.82" stroke-dashoffset="0" fill="none"/><rect x="309.9" y="352.3" width="198.4" height="1.8" fill="#b4c846"/><path d="M309.6 353.2H508.3" stroke="#ecc42e" stroke-width="1.8" stroke-dasharray="1.8 1.82" stroke-dashoffset="0" fill="none"/><rect x="309.9" y="295.2" width="198.4" height="1.3" fill="#30c08e"/><path d="M309.6 295.85H508.3" stroke="#6cc270" stroke-width="1.3" stroke-dasharray="1.8 1.82" stroke-dashoffset="0" fill="none"/><rect x="309.9" y="353.5" width="198.4" height="1.3" fill="#30c08e"/><path d="M309.6 354.15H508.3" stroke="#6cc270" stroke-width="1.3" stroke-dasharray="1.8 1.82" stroke-dashoffset="0" fill="none"/></g>
<rect x="309.9" y="237.2" width="198.4" height="175.5" fill="none" stroke="#4a4a4a" stroke-width="0.5" stroke-opacity="0.55"/>
<path d="M329.2 412.7v-1.8M329.2 237.2v1.8M349.2 412.7v-1.8M349.2 237.2v1.8M369.2 412.7v-1.8M369.2 237.2v1.8M389.2 412.7v-1.8M389.2 237.2v1.8M409.2 412.7v-1.8M409.2 237.2v1.8M429.2 412.7v-1.8M429.2 237.2v1.8M449.2 412.7v-1.8M449.2 237.2v1.8M469.2 412.7v-1.8M469.2 237.2v1.8M489.2 412.7v-1.8M489.2 237.2v1.8M309.9 401.94h1.8M508.3 401.94h-1.8M309.9 382.78h1.8M508.3 382.78h-1.8M309.9 363.62h1.8M508.3 363.62h-1.8M309.9 344.46h1.8M508.3 344.46h-1.8M309.9 325.3h1.8M508.3 325.3h-1.8M309.9 306.14h1.8M508.3 306.14h-1.8M309.9 286.98h1.8M508.3 286.98h-1.8M309.9 267.82h1.8M508.3 267.82h-1.8M309.9 248.66h1.8M508.3 248.66h-1.8" stroke="#333" stroke-width="0.5" stroke-opacity="0.6" fill="none"/>
<text x="329.2" y="422.2" class="tk" text-anchor="middle">50</text>
<text x="349.2" y="422.2" class="tk" text-anchor="middle">100</text>
<text x="369.2" y="422.2" class="tk" text-anchor="middle">150</text>
<text x="389.2" y="422.2" class="tk" text-anchor="middle">200</text>
<text x="409.2" y="422.2" class="tk" text-anchor="middle">250</text>
<text x="429.2" y="422.2" class="tk" text-anchor="middle">300</text>
<text x="449.2" y="422.2" class="tk" text-anchor="middle">350</text>
<text x="469.2" y="422.2" class="tk" text-anchor="middle">400</text>
<text x="489.2" y="422.2" class="tk" text-anchor="middle">450</text>
<text x="307.3" y="404.29" class="tk" text-anchor="end">-80</text>
<text x="307.3" y="385.13" class="tk" text-anchor="end">-60</text>
<text x="307.3" y="365.97" class="tk" text-anchor="end">-40</text>
<text x="307.3" y="346.81" class="tk" text-anchor="end">-20</text>
<text x="307.3" y="327.65" class="tk" text-anchor="end">0</text>
<text x="307.3" y="308.49" class="tk" text-anchor="end">20</text>
<text x="307.3" y="289.33" class="tk" text-anchor="end">40</text>
<text x="307.3" y="270.17" class="tk" text-anchor="end">60</text>
<text x="307.3" y="251.01" class="tk" text-anchor="end">80</text>
<text x="409.1" y="431.3" class="al" text-anchor="middle">Time [ms]</text>
<text transform="translate(292.6 324.95) rotate(-90)" class="al" text-anchor="middle">Velocity [m/s]</text>
<text x="409.1" y="234.9" class="ti" text-anchor="middle">Simulated Quadcopter Spectrogram</text>
<rect x="513.2" y="237.2" width="11.7" height="175.5" fill="url(#cb)" stroke="#4a4a4a" stroke-width="0.4" stroke-opacity="0.5"/>
<text x="528.1" y="256.1" class="ct">-20</text>
<text x="528.1" y="287.1" class="ct">-30</text>
<text x="528.1" y="318.1" class="ct">-40</text>
<text x="528.1" y="349.1" class="ct">-50</text>
<text x="528.1" y="380.1" class="ct">-60</text>
<text x="528.1" y="411.1" class="ct">-70</text>
<path d="M524.9 253.8h-1.6M524.9 284.8h-1.6M524.9 315.8h-1.6M524.9 346.8h-1.6M524.9 377.8h-1.6M524.9 408.8h-1.6" stroke="#333" stroke-width="0.5" stroke-opacity="0.6" fill="none"/>
<text transform="translate(543.9 324.95) rotate(-90)" class="cl" text-anchor="middle">Return in dB</text>
<text x="416.1" y="449" class="sb" text-anchor="middle">(d)</text>
</svg>
</body></html>
